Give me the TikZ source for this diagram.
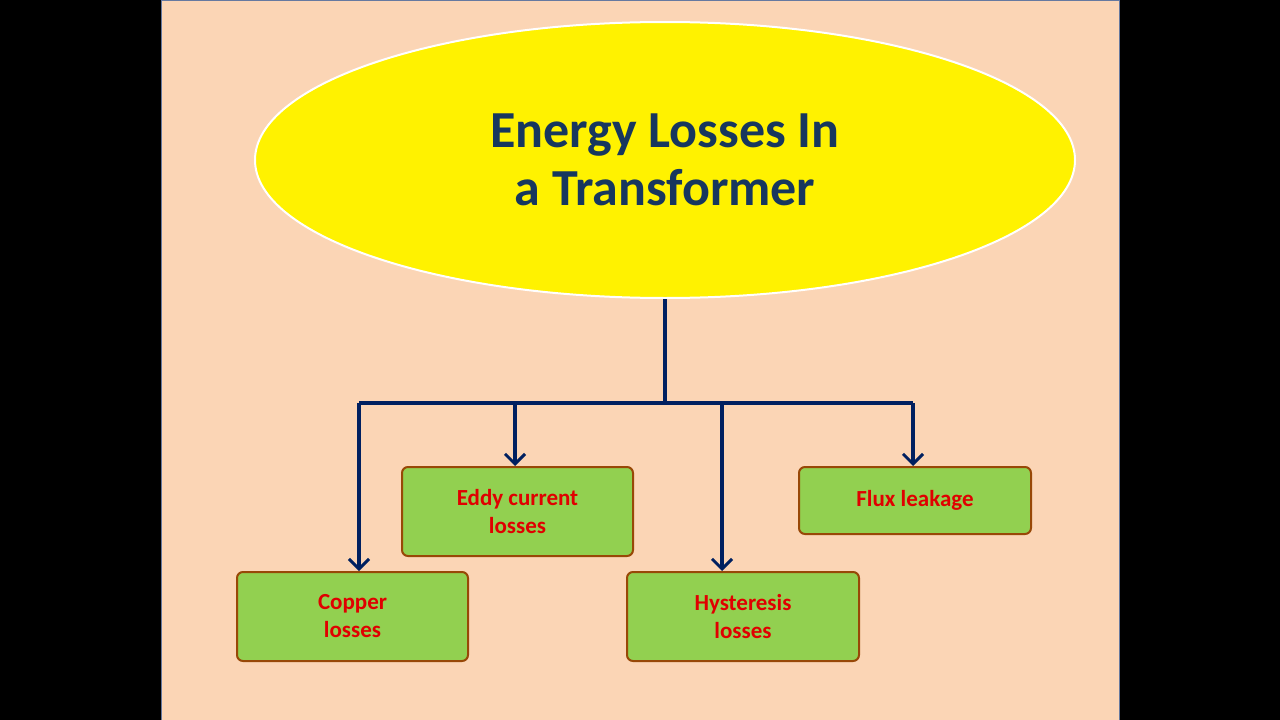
\documentclass[tikz,border=0pt]{standalone}
\usepackage{fontspec}
\setmainfont{Carlito}
\usetikzlibrary{shapes.geometric,arrows.meta}
\definecolor{peach}{HTML}{FBD5B5}
\definecolor{titleblue}{HTML}{17375E}
\definecolor{lnblue}{HTML}{002060}
\definecolor{boxgreen}{HTML}{92D050}
\definecolor{boxedge}{HTML}{984807}
\definecolor{txtred}{HTML}{E00000}
\tikzset{
  lossbox/.style={draw=boxedge,line width=2pt,fill=boxgreen,rounded corners=6pt,
    font=\bfseries\fontsize{23}{28}\selectfont,text=txtred,align=center,anchor=north west},
  conn/.style={draw=lnblue,line width=3.5pt},
  arr/.style={conn,-{Straight Barb[length=10pt,width=20pt,line width=3pt]}}
}
\begin{document}
\begin{tikzpicture}[x=1pt,y=-1pt]
\useasboundingbox (0,0) rectangle (1280,720);
\fill[black] (0,0) rectangle (1280,720);
\fill[peach,draw=lnblue!60,line width=1pt] (161,0) rectangle (1119,720);
\node[ellipse,draw=white,line width=2pt,fill=yellow,minimum width=820pt,minimum height=276pt,
  text=titleblue,font=\bfseries\fontsize{52}{58}\selectfont,align=center] (title) at (665,160)
  {Energy Losses In\\a Transformer};
\node[lossbox,minimum width=231pt,minimum height=89pt] (copper) at (236,571) {Copper\\losses};
\node[lossbox,minimum width=231pt,minimum height=89pt] (eddy) at (401,466) {Eddy current\\losses};
\node[lossbox,minimum width=232pt,minimum height=89pt] (hyst) at (626,571) {Hysteresis\\losses};
\node[lossbox,minimum width=232pt,minimum height=67pt] (flux) at (798,466) {Flux leakage};
\coordinate (j) at (665,403);
\draw[conn] (title.south) -- (j);
\draw[conn] (359,403) -- (913,403);
\draw[arr] (359,403) -- (copper.north -| 359,0);
\draw[arr] (515,403) -- (eddy.north -| 515,0);
\draw[arr] (722,403) -- (hyst.north -| 722,0);
\draw[arr] (913,403) -- (flux.north -| 913,0);
\end{tikzpicture}
\end{document}
